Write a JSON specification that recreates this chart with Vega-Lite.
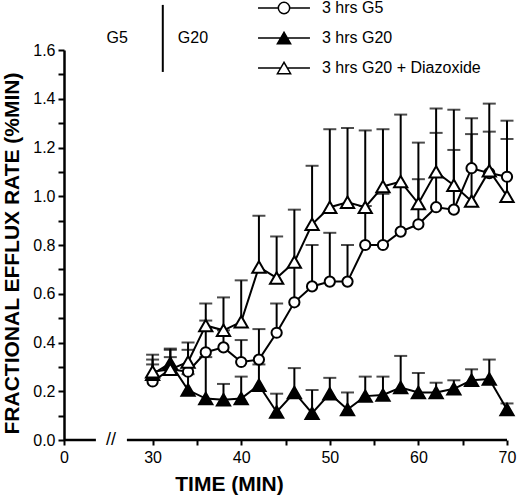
{
  "$schema": "https://vega.github.io/schema/vega-lite/v6.json",
  "width": 443,
  "height": 390,
  "autosize": {"type": "none"},
  "padding": {"left": 64, "top": 50, "right": 10, "bottom": 60},
  "background": "white",
  "config": {
    "font": "Liberation Sans",
    "view": {"stroke": null},
    "axis": {
      "domainColor": "black",
      "tickColor": "black",
      "labelColor": "black",
      "titleColor": "black",
      "labelFont": "Liberation Sans",
      "titleFont": "Liberation Sans",
      "labelFontSize": 16,
      "titleFontWeight": "bold",
      "grid": false,
      "tickWidth": 2
    }
  },
  "datasets": {
    "efflux": [
      {"group": "3 hrs G5", "time": 30, "rate": 0.24, "upper": 0.31},
      {"group": "3 hrs G5", "time": 32, "rate": 0.29, "upper": 0.34},
      {"group": "3 hrs G5", "time": 34, "rate": 0.28, "upper": 0.37},
      {"group": "3 hrs G5", "time": 36, "rate": 0.36, "upper": 0.49},
      {"group": "3 hrs G5", "time": 38, "rate": 0.38, "upper": 0.45},
      {"group": "3 hrs G5", "time": 40, "rate": 0.32, "upper": 0.41},
      {"group": "3 hrs G5", "time": 42, "rate": 0.33, "upper": 0.455},
      {"group": "3 hrs G5", "time": 44, "rate": 0.44, "upper": 0.56},
      {"group": "3 hrs G5", "time": 46, "rate": 0.565, "upper": 0.71},
      {"group": "3 hrs G5", "time": 48, "rate": 0.63, "upper": 0.8},
      {"group": "3 hrs G5", "time": 50, "rate": 0.65, "upper": 0.85},
      {"group": "3 hrs G5", "time": 52, "rate": 0.65, "upper": 0.8},
      {"group": "3 hrs G5", "time": 54, "rate": 0.8, "upper": 0.96},
      {"group": "3 hrs G5", "time": 56, "rate": 0.8, "upper": 1.01},
      {"group": "3 hrs G5", "time": 58, "rate": 0.855, "upper": 1.04},
      {"group": "3 hrs G5", "time": 60, "rate": 0.885, "upper": 1.07},
      {"group": "3 hrs G5", "time": 62, "rate": 0.955, "upper": 1.26},
      {"group": "3 hrs G5", "time": 64, "rate": 0.945, "upper": 1.19},
      {"group": "3 hrs G5", "time": 66, "rate": 1.115, "upper": 1.255},
      {"group": "3 hrs G5", "time": 68, "rate": 1.095, "upper": 1.265},
      {"group": "3 hrs G5", "time": 70, "rate": 1.08, "upper": 1.235},
      {"group": "3 hrs G20", "time": 30, "rate": 0.27, "upper": 0.33},
      {"group": "3 hrs G20", "time": 32, "rate": 0.315, "upper": 0.375},
      {"group": "3 hrs G20", "time": 34, "rate": 0.205, "upper": 0.27},
      {"group": "3 hrs G20", "time": 36, "rate": 0.17, "upper": 0.34},
      {"group": "3 hrs G20", "time": 38, "rate": 0.165, "upper": 0.23},
      {"group": "3 hrs G20", "time": 40, "rate": 0.17, "upper": 0.26},
      {"group": "3 hrs G20", "time": 42, "rate": 0.225, "upper": 0.31},
      {"group": "3 hrs G20", "time": 44, "rate": 0.115, "upper": 0.19},
      {"group": "3 hrs G20", "time": 46, "rate": 0.195, "upper": 0.295},
      {"group": "3 hrs G20", "time": 48, "rate": 0.11, "upper": 0.205},
      {"group": "3 hrs G20", "time": 50, "rate": 0.19, "upper": 0.255},
      {"group": "3 hrs G20", "time": 52, "rate": 0.125, "upper": 0.195},
      {"group": "3 hrs G20", "time": 54, "rate": 0.18, "upper": 0.26},
      {"group": "3 hrs G20", "time": 56, "rate": 0.185, "upper": 0.26},
      {"group": "3 hrs G20", "time": 58, "rate": 0.215, "upper": 0.345},
      {"group": "3 hrs G20", "time": 60, "rate": 0.195, "upper": 0.275},
      {"group": "3 hrs G20", "time": 62, "rate": 0.195, "upper": 0.235},
      {"group": "3 hrs G20", "time": 64, "rate": 0.21, "upper": 0.245},
      {"group": "3 hrs G20", "time": 66, "rate": 0.245, "upper": 0.29},
      {"group": "3 hrs G20", "time": 68, "rate": 0.25, "upper": 0.33},
      {"group": "3 hrs G20", "time": 70, "rate": 0.125, "upper": 0.15},
      {"group": "3 hrs G20 + Diazoxide", "time": 30, "rate": 0.28, "upper": 0.35},
      {"group": "3 hrs G20 + Diazoxide", "time": 32, "rate": 0.29, "upper": 0.37},
      {"group": "3 hrs G20 + Diazoxide", "time": 34, "rate": 0.32, "upper": 0.4},
      {"group": "3 hrs G20 + Diazoxide", "time": 36, "rate": 0.47, "upper": 0.56},
      {"group": "3 hrs G20 + Diazoxide", "time": 38, "rate": 0.45, "upper": 0.585},
      {"group": "3 hrs G20 + Diazoxide", "time": 40, "rate": 0.485, "upper": 0.655},
      {"group": "3 hrs G20 + Diazoxide", "time": 42, "rate": 0.71, "upper": 0.92},
      {"group": "3 hrs G20 + Diazoxide", "time": 44, "rate": 0.665, "upper": 0.835},
      {"group": "3 hrs G20 + Diazoxide", "time": 46, "rate": 0.73, "upper": 0.945},
      {"group": "3 hrs G20 + Diazoxide", "time": 48, "rate": 0.885, "upper": 1.125},
      {"group": "3 hrs G20 + Diazoxide", "time": 50, "rate": 0.955, "upper": 1.275},
      {"group": "3 hrs G20 + Diazoxide", "time": 52, "rate": 0.975, "upper": 1.28},
      {"group": "3 hrs G20 + Diazoxide", "time": 54, "rate": 0.955, "upper": 1.27},
      {"group": "3 hrs G20 + Diazoxide", "time": 56, "rate": 1.04, "upper": 1.275},
      {"group": "3 hrs G20 + Diazoxide", "time": 58, "rate": 1.06, "upper": 1.335},
      {"group": "3 hrs G20 + Diazoxide", "time": 60, "rate": 0.97, "upper": 1.22},
      {"group": "3 hrs G20 + Diazoxide", "time": 62, "rate": 1.1, "upper": 1.36},
      {"group": "3 hrs G20 + Diazoxide", "time": 64, "rate": 1.045, "upper": 1.355},
      {"group": "3 hrs G20 + Diazoxide", "time": 66, "rate": 0.98, "upper": 1.32},
      {"group": "3 hrs G20 + Diazoxide", "time": 68, "rate": 1.105, "upper": 1.38},
      {"group": "3 hrs G20 + Diazoxide", "time": 70, "rate": 1.0, "upper": 1.31}
    ]
  },
  "data": {"name": "efflux"},
  "encoding": {
    "x": {
      "field": "time",
      "type": "quantitative",
      "scale": {"domain": [20, 70], "nice": false, "zero": false},
      "axis": {
        "title": "TIME (MIN)",
        "titleFontSize": 21,
        "domain": false,
        "values": [20, 30, 35, 40, 45, 50, 55, 60, 65, 70],
        "labelExpr": "datum.value == 20 ? '0' : (datum.value % 10 == 0 ? datum.label : '')",
        "tickSize": 5,
        "labelPadding": 4,
        "titlePadding": 8,
        "titleX": 165,
        "labelFlush": false,
        "labelOverlap": false
      }
    },
    "y": {
      "field": "rate",
      "type": "quantitative",
      "scale": {"domain": [0, 1.6], "nice": false},
      "axis": {
        "title": "FRACTIONAL EFFLUX RATE (%MIN)",
        "titleFontSize": 21,
        "titleY": 203,
        "values": [0, 0.1, 0.2, 0.3, 0.4, 0.5, 0.6, 0.7, 0.8, 0.9, 1.0, 1.1, 1.2, 1.3, 1.4, 1.5, 1.6],
        "labelExpr": "round(datum.value * 10) % 2 == 0 ? format(datum.value, '.1f') : ''",
        "domainWidth": 2.5,
        "tickSize": 6,
        "labelPadding": 3,
        "titlePadding": 10,
        "labelOverlap": false,
        "labelFlush": false
      }
    }
  },
  "layer": [
    {
      "mark": {"type": "rule", "color": "black", "strokeWidth": 2},
      "encoding": {"y2": {"field": "upper"}}
    },
    {
      "mark": {"type": "tick", "orient": "horizontal", "color": "black", "size": 13, "thickness": 2},
      "encoding": {"y": {"field": "upper", "type": "quantitative"}}
    },
    {
      "mark": {"type": "line", "color": "black", "strokeWidth": 2},
      "encoding": {"detail": {"field": "group"}}
    },
    {
      "transform": [{"filter": "datum.group == '3 hrs G5'"}],
      "mark": {"type": "point", "shape": "circle", "size": 105, "fill": "white", "fillOpacity": 1, "stroke": "black", "strokeWidth": 2, "opacity": 1}
    },
    {
      "transform": [{"filter": "datum.group == '3 hrs G20'"}],
      "mark": {"type": "point", "shape": "triangle-up", "size": 175, "fill": "black", "fillOpacity": 1, "stroke": "black", "strokeWidth": 2, "opacity": 1}
    },
    {
      "transform": [{"filter": "datum.group == '3 hrs G20 + Diazoxide'"}],
      "mark": {"type": "point", "shape": "triangle-up", "size": 175, "fill": "white", "fillOpacity": 1, "stroke": "black", "strokeWidth": 2, "opacity": 1}
    },
    {
      "transform": [{"filter": "false"}],
      "mark": {"type": "point", "filled": true, "stroke": "black", "strokeWidth": 2, "opacity": 1},
      "encoding": {
        "shape": {
          "field": "group",
          "type": "nominal",
          "scale": {
            "domain": ["3 hrs G5", "3 hrs G20", "3 hrs G20 + Diazoxide"],
            "range": [
              "M-2.2,0L-0.48,0M0.48,0L2.2,0M0.48,0A0.48,0.48,0,1,1,-0.48,0A0.48,0.48,0,1,1,0.48,0Z",
              "M-2.2,0L-0.28,0M0.28,0L2.2,0M0,-0.485L-0.56,0.485L0.56,0.485Z",
              "M-2.2,0L-0.28,0M0.28,0L2.2,0M0,-0.485L-0.56,0.485L0.56,0.485Z"
            ]
          },
          "legend": {
            "title": null,
            "orient": "none",
            "legendX": 207,
            "legendY": -55,
            "padding": 0,
            "symbolSize": 557,
            "labelFont": "Liberation Sans",
            "labelFontSize": 16,
            "labelColor": "black",
            "labelOffset": 25,
            "rowPadding": 8,
            "labelLimit": 300,
            "encode": {
              "symbols": {
                "update": {
                  "stroke": {"value": "black"},
                  "strokeWidth": {"value": 2},
                  "opacity": {"value": 1}
                }
              }
            }
          }
        },
        "fill": {
          "field": "group",
          "type": "nominal",
          "scale": {
            "domain": ["3 hrs G5", "3 hrs G20", "3 hrs G20 + Diazoxide"],
            "range": ["white", "black", "white"]
          }
        }
      }
    },
    {
      "transform": [{"filter": "datum.group == '3 hrs G5' && datum.time == 30"}],
      "mark": {"type": "rule", "color": "black", "strokeWidth": 2.5},
      "encoding": {
        "x": {"datum": 20, "type": "quantitative"},
        "x2": {"datum": 23.6},
        "y": {"datum": 0, "type": "quantitative"}
      }
    },
    {
      "transform": [{"filter": "datum.group == '3 hrs G5' && datum.time == 30"}],
      "mark": {"type": "rule", "color": "black", "strokeWidth": 2.5},
      "encoding": {
        "x": {"datum": 27.1, "type": "quantitative"},
        "x2": {"datum": 70},
        "y": {"datum": 0, "type": "quantitative"}
      }
    },
    {
      "transform": [{"filter": "datum.group == '3 hrs G5' && datum.time == 30"}],
      "mark": {"type": "text", "text": "//", "font": "Liberation Sans", "fontSize": 18, "color": "black", "baseline": "middle", "align": "center"},
      "encoding": {
        "x": {"datum": 25.3, "type": "quantitative"},
        "y": {"datum": 0, "type": "quantitative"}
      }
    },
    {
      "transform": [{"filter": "datum.group == '3 hrs G5' && datum.time == 30"}],
      "mark": {"type": "text", "text": "G5", "font": "Liberation Sans", "fontSize": 16, "color": "black", "baseline": "middle", "align": "center"},
      "encoding": {
        "x": {"datum": 26, "type": "quantitative"},
        "y": {"datum": 1.65, "type": "quantitative"}
      }
    },
    {
      "transform": [{"filter": "datum.group == '3 hrs G5' && datum.time == 30"}],
      "mark": {"type": "text", "text": "G20", "font": "Liberation Sans", "fontSize": 16, "color": "black", "baseline": "middle", "align": "center"},
      "encoding": {
        "x": {"datum": 34.55, "type": "quantitative"},
        "y": {"datum": 1.65, "type": "quantitative"}
      }
    },
    {
      "transform": [{"filter": "datum.group == '3 hrs G5' && datum.time == 30"}],
      "mark": {"type": "rule", "color": "black", "strokeWidth": 2},
      "encoding": {
        "x": {"datum": 31.15, "type": "quantitative"},
        "y": {"datum": 1.51, "type": "quantitative"},
        "y2": {"datum": 1.785}
      }
    }
  ]
}
